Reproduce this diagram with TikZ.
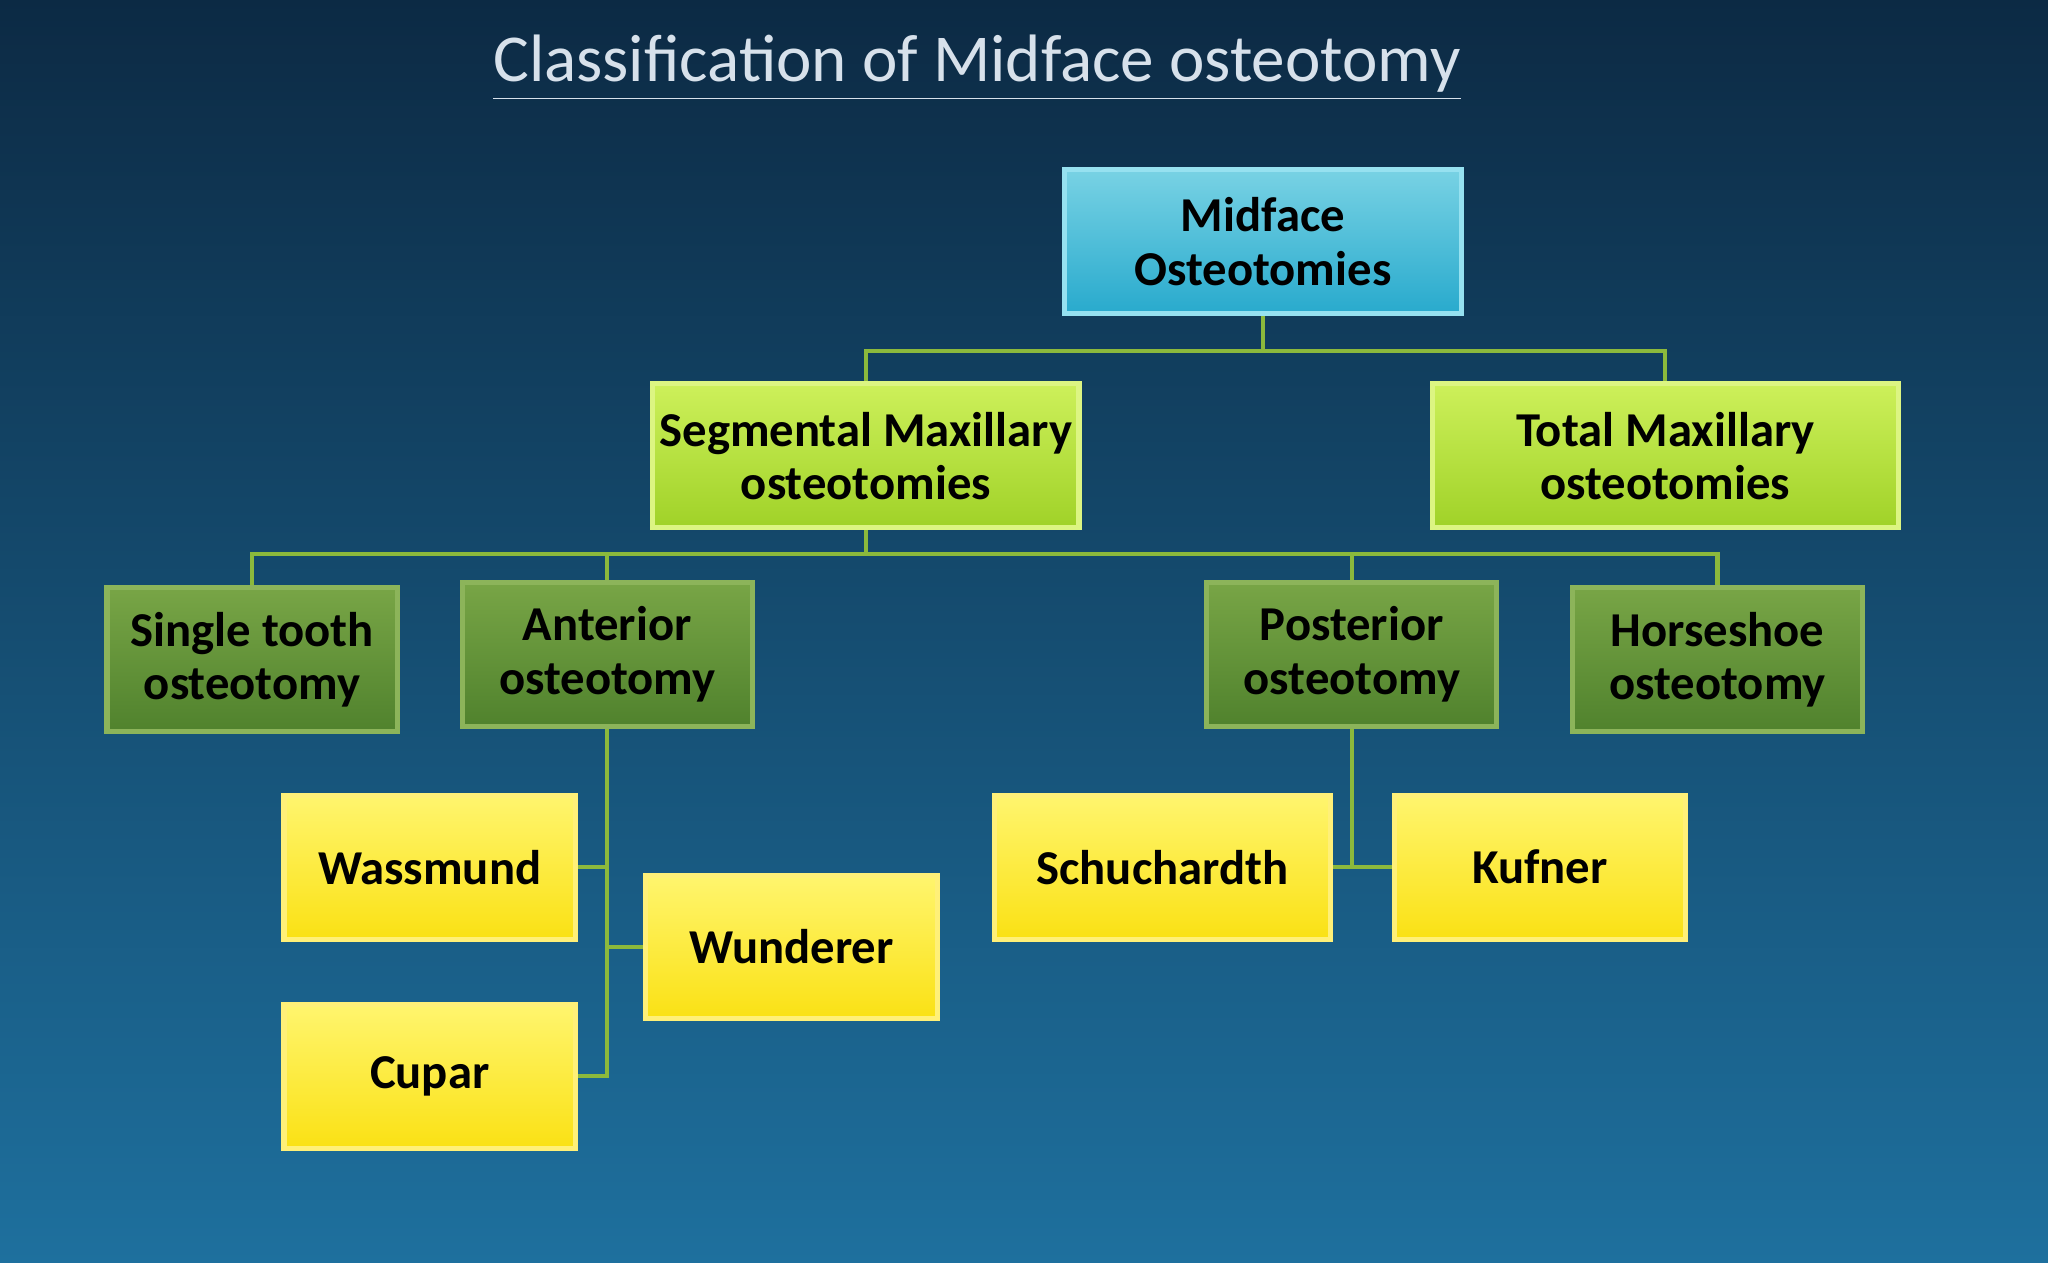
\documentclass[tikz,border=0pt]{standalone}
\usepackage{fontspec}
\setmainfont{Carlito}
\definecolor{cyA}{RGB}{120,210,228}\definecolor{cyB}{RGB}{40,170,205}\definecolor{cyE}{RGB}{150,225,240}
\definecolor{liA}{RGB}{205,240,90}\definecolor{liB}{RGB}{160,210,40}\definecolor{liE}{RGB}{220,245,130}
\definecolor{grA}{RGB}{120,165,70}\definecolor{grB}{RGB}{80,130,45}\definecolor{grE}{RGB}{140,180,90}
\definecolor{yeA}{RGB}{255,245,110}\definecolor{yeB}{RGB}{250,225,20}\definecolor{yeE}{RGB}{255,240,120}
\definecolor{ln}{RGB}{140,185,60}
\begin{document}
\begin{tikzpicture}[x=0.01cm,y=-0.01cm,
 box/.style={line width=1.1pt,minimum height=1.1cm,align=center,font=\bfseries\fontsize{10.6}{11.6}\selectfont,text=black,inner sep=0pt},
 cyanbox/.style={box,draw=cyE,top color=cyA,bottom color=cyB},
 limebox/.style={box,draw=liE,top color=liA,bottom color=liB},
 greenbox/.style={box,draw=grE,top color=grA,bottom color=grB},
 yellowbox/.style={box,draw=yeE,top color=yeA,bottom color=yeB},
 conn/.style={draw=ln,line width=0.9pt}]
\useasboundingbox[bottom color={rgb,255:red,30;green,112;blue,158},top color={rgb,255:red,12;green,42;blue,68}] (0,0) rectangle (1568,967);
\node[text={rgb,255:red,215;green,225;blue,235},font=\fontsize{14.6}{16}\selectfont] (title) at (748,52) {\underline{Classification of Midface osteotomy}};
\node[cyanbox,minimum width=3.04cm] (mid) at (967,185) {Midface\\Osteotomies};
\node[limebox,minimum width=3.26cm] (seg) at (663,349) {Segmental Maxillary\\osteotomies};
\node[limebox,minimum width=3.57cm] (tot) at (1275,349) {Total Maxillary\\osteotomies};
\node[greenbox,minimum width=2.22cm] (sin) at (193,505) {Single tooth\\osteotomy};
\node[greenbox,minimum width=2.22cm] (ant) at (465,501) {Anterior\\osteotomy};
\node[greenbox,minimum width=2.22cm] (pos) at (1035,501) {Posterior\\osteotomy};
\node[greenbox,minimum width=2.22cm] (hor) at (1315,505) {Horseshoe\\osteotomy};
\node[yellowbox,minimum width=2.23cm] (was) at (329,664) {Wassmund};
\node[yellowbox,minimum width=2.23cm] (wun) at (606,725) {Wunderer};
\node[yellowbox,minimum width=2.23cm] (cup) at (329,824) {Cupar};
\node[yellowbox,minimum width=2.57cm] (sch) at (890,664) {Schuchardth};
\node[yellowbox,minimum width=2.23cm] (kuf) at (1179,664) {Kufner};
\coordinate (j1) at (967,269);
\coordinate (j2) at (663,424);
\draw[conn] (mid.south) -- (j1) -| (seg.north);
\draw[conn] (j1) -| (tot.north);
\draw[conn] (seg.south) -- (j2) -| (sin.north);
\draw[conn] (j2) -| (ant.north);
\draw[conn] (j2) -| (pos.north);
\draw[conn] (j2) -| (hor.north);
\draw[conn] (ant.south) |- (cup.east);
\draw[conn] (ant.south) |- (was.east);
\draw[conn] (ant.south) |- (wun.west);
\draw[conn] (pos.south) |- (sch.east);
\draw[conn] (pos.south) |- (kuf.west);
\end{tikzpicture}
\end{document}
